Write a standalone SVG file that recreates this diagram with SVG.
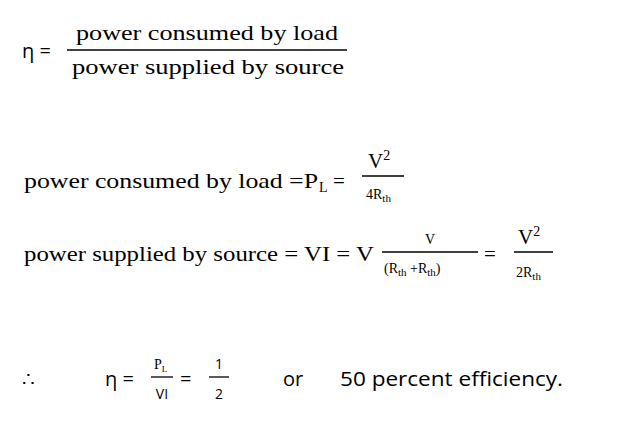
<svg xmlns="http://www.w3.org/2000/svg" width="640" height="434" viewBox="0 0 640 434">
<style>
.s{font-family:"Liberation Serif","DejaVu Serif",serif;font-size:21px;fill:#000}
.m{font-family:"Liberation Serif","DejaVu Serif",serif;font-size:14px;fill:#000}
.a{font-family:"Open Sans","Noto Sans",sans-serif;font-size:20px;fill:#000}
.n{font-family:"Open Sans","Noto Sans",sans-serif;font-size:14px;fill:#000}
line{stroke:#000;stroke-width:1.3}
</style>
<rect width="640" height="434" fill="#fff"/>
<text class="a" x="22" y="58">η =</text>
<line x1="67" y1="50" x2="347" y2="50"/>
<text class="s" x="76" y="40" textLength="262" lengthAdjust="spacingAndGlyphs">power consumed by load</text>
<text class="s" x="72" y="74" textLength="272" lengthAdjust="spacingAndGlyphs">power supplied by source</text>

<text class="s" x="24" y="188" textLength="294" lengthAdjust="spacingAndGlyphs">power consumed by load =P</text>
<text class="m" x="319" y="192">L</text>
<text class="s" x="333" y="188">=</text>
<line x1="362" y1="176" x2="404" y2="176"/>
<text class="s" x="368" y="168">V<tspan font-size="14" dy="-8">2</tspan></text>
<text class="m" x="366" y="199">4R<tspan font-size="11" dy="3">th</tspan></text>

<text class="s" x="24" y="261" textLength="350" lengthAdjust="spacingAndGlyphs">power supplied by source = VI = V</text>
<line x1="382" y1="252" x2="478" y2="252"/>
<text class="m" x="430" y="244" text-anchor="middle">V</text>
<text class="m" x="384" y="273">(R<tspan font-size="11" dy="3">th</tspan><tspan dy="-3"> +R</tspan><tspan font-size="11" dy="3">th</tspan><tspan dy="-3">)</tspan></text>
<text class="s" x="484" y="261">=</text>
<line x1="514" y1="252" x2="553" y2="252"/>
<text class="s" x="518" y="244">V<tspan font-size="14" dy="-8">2</tspan></text>
<text class="m" x="516" y="277">2R<tspan font-size="11" dy="3">th</tspan></text>

<text class="a" x="22" y="386">∴</text>
<text class="a" x="105" y="386">η =</text>
<line x1="151" y1="377" x2="173" y2="377"/>
<text class="m" x="154" y="369" font-size="12">P<tspan font-size="9" dy="3">L</tspan></text>
<text class="n" x="162" y="399" text-anchor="middle" font-size="12">VI</text>
<text class="a" x="180" y="386">=</text>
<line x1="209" y1="377" x2="229" y2="377"/>
<text class="n" x="219" y="369" text-anchor="middle">1</text>
<text class="n" x="219" y="399" text-anchor="middle">2</text>
<text class="a" x="283" y="386">or</text>
<text class="a" x="340" y="386" textLength="223" lengthAdjust="spacingAndGlyphs">50 percent efficiency.</text>
</svg>
